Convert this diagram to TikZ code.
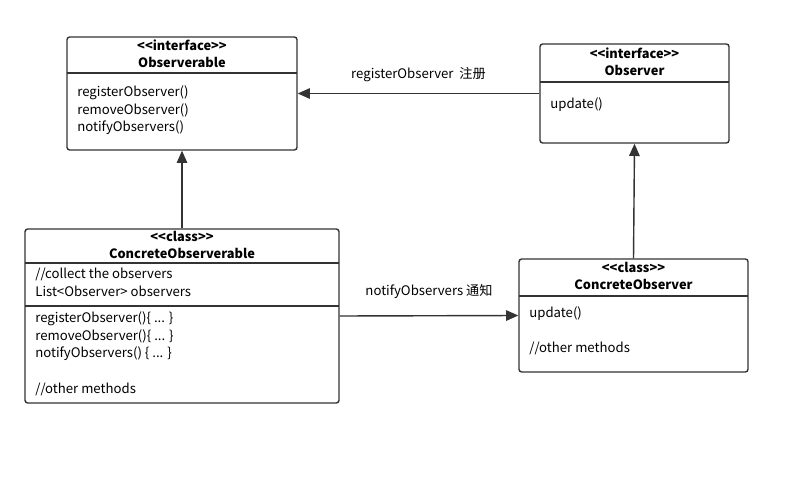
\documentclass[tikz,border=0pt]{standalone}
\usepackage{fontspec}
\setmainfont{Noto Sans CJK SC}
\usetikzlibrary{arrows.meta}
\newcommand\umltag[1]{<{}<#1>{}>}
\tikzset{
  box/.style={draw=black!80, thick, rounded corners=1.5pt, fill=white, inner sep=0pt},
  title/.style={align=center, font=\fontsize{7.3}{9.6}\selectfont\bfseries, inner sep=0pt},
  body/.style={align=left, anchor=north west, inner sep=0pt},
  link/.style={draw=black!80, thick, -{Triangle[length=7pt,width=6pt]}},
}
\begin{document}
\begin{tikzpicture}[x=0.02cm, y=-0.02cm, font=\fontsize{7.5}{10.2}\selectfont]
  \useasboundingbox (0,0) rectangle (800,476);

  % Observerable
  \node [box, minimum width=4.6cm, minimum height=2.26cm] (obs) at (182,93.5) {};
  \draw [black!80, thick] (67,73) -- (297,73);
  \node [title] (obsT) at (182,54) {\umltag{interface}\\Observerable};
  \node [body] (obsB) at (77,85) {registerObserver()\\removeObserver()\\notifyObservers()};

  % Observer
  \node [box, minimum width=3.78cm, minimum height=1.98cm] (ob) at (634.5,93.5) {};
  \draw [black!80, thick] (540,82) -- (729,82);
  \node [title] (obT) at (634.5,62) {\umltag{interface}\\Observer};
  \node [body] (obB) at (550,97) {update()};

  % ConcreteObserverable
  \node [box, minimum width=6.28cm, minimum height=3.48cm] (cs) at (182,316) {};
  \draw [black!80, thick] (25,263) -- (339,263);
  \draw [black!80, thick] (25,306) -- (339,306);
  \node [title] (csT) at (182,245) {\umltag{class}\\ConcreteObserverable};
  \node [body] (csF) at (35,268) {//collect the observers\\List<Observer> observers};
  \node [body] (csB) at (35,311) {registerObserver()\{ ... \}\\removeObserver()\{ ... \}\\notifyObservers() \{ ... \}\\[10.2pt]//other methods};

  % ConcreteObserver
  \node [box, minimum width=4.58cm, minimum height=2.26cm] (co) at (633.5,315.5) {};
  \draw [black!80, thick] (519,296) -- (748,296);
  \node [title] (coT) at (633.5,276) {\umltag{class}\\ConcreteObserver};
  \node [body] (coB) at (529,306) {update()\\[10.2pt]//other methods};

  % Edges
  \draw [link] (ob.west) -- (obs.east)
        node [midway, above=3pt] {registerObserver\ \ 注册};
  \draw [link] (cs.east) -- (co.west)
        node [midway, above=6pt] {notifyObservers 通知};
  \draw [link] (cs.north) -- (obs.south);
  \draw [link] (co.north) -- (ob.south);
\end{tikzpicture}
\end{document}
